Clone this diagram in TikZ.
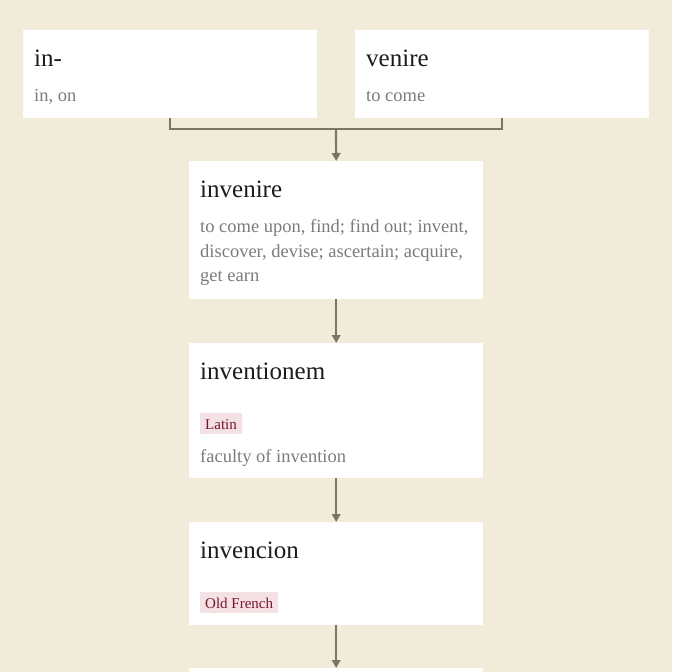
\documentclass[tikz,border=0pt]{standalone}
\usepackage{fontspec}
\setmainfont{Liberation Serif}
\usetikzlibrary{arrows.meta}
\definecolor{bg}{HTML}{F1EBDA}
\definecolor{ttl}{HTML}{1C1C1C}
\definecolor{gry}{HTML}{7C7C7C}
\definecolor{tagbg}{HTML}{F3E1E3}
\definecolor{tagfg}{HTML}{7A1530}
\definecolor{conn}{HTML}{7A7665}
\tikzset{
  box/.style={rectangle, fill=white, draw=none, inner sep=0pt, minimum width=294pt, anchor=north west},
  ttext/.style={inner sep=0pt, anchor=base west, text=ttl, font=\fontsize{25}{30}\selectfont},
  gtext/.style={inner sep=0pt, anchor=base west, text=gry, font=\fontsize{18.5}{24.5}\selectfont},
  tag/.style={anchor=base west, fill=tagbg, text=tagfg, inner xsep=5pt, inner ysep=0pt, text height=16pt, text depth=4.5pt, font=\fontsize{15}{18}\selectfont},
  link/.style={draw=conn, line width=2.2pt},
  arr/.style={link, -{Triangle[length=8pt,width=8.5pt]}}
}
\begin{document}
\begin{tikzpicture}[x=1pt,y=-1pt]
\useasboundingbox (0,0) rectangle (672,672);
\clip (0,0) rectangle (672,672);
\fill[bg] (0,0) rectangle (672,672);
% boxes
\node[box, minimum height=88pt] (b1) at (23,30) {};
\node[box, minimum height=88pt] (b2) at (355,30) {};
\node[box, minimum height=138pt] (b3) at (189,161) {};
\node[box, minimum height=135pt] (b4) at (189,343) {};
\node[box, minimum height=103pt] (b5) at (189,522) {};
\node[box, minimum height=60pt] (b6) at (189,668) {};
% texts
\node[ttext] (t1) at (34,66) {in-};
\node[gtext] (g1) at (34,101.5) {in, on};
\node[ttext] (t2) at (366,66) {venire};
\node[gtext] (g2) at (366,101.5) {to come};
\node[ttext] (t3) at (200,197) {invenire};
\node[gtext] (g3a) at (200,232.5) {to come upon, find; find out; invent,};
\node[gtext] (g3b) at (200,257) {discover, devise; ascertain; acquire,};
\node[gtext] (g3c) at (200,281.5) {get earn};
\node[ttext] (t4) at (200,379) {inventionem};
\node[tag] (l4) at (200,429) {Latin};
\node[gtext] (g4) at (200,462.5) {faculty of invention};
\node[ttext] (t5) at (200,558) {invencion};
\node[tag] (l5) at (200,608) {Old French};
% connectors
\coordinate (join) at (336,129);
\draw[link] (b1.south) |- (join);
\draw[link] (b2.south) |- (join);
\draw[arr] (join) -- (b3.north);
\draw[arr] (b3.south) -- (b4.north);
\draw[arr] (b4.south) -- (b5.north);
\draw[arr] (b5.south) -- (b6.north);
\end{tikzpicture}
\end{document}
